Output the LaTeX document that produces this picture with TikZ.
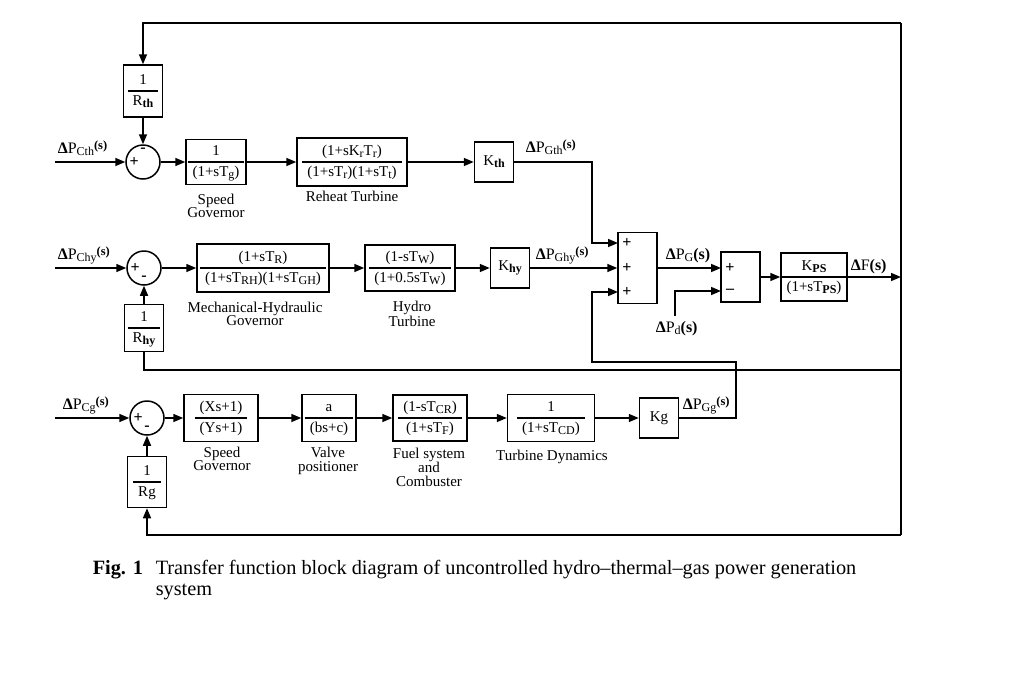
\documentclass[tikz,border=0pt]{standalone}
\usepackage{fontspec}
\setmainfont{Liberation Serif}
\usetikzlibrary{arrows.meta}
\setlength{\arrayrulewidth}{1.3pt}
\renewcommand{\arraystretch}{1.5}
\newcommand{\blkfrac}[2]{\begin{tabular}{@{\hspace{5pt}}c@{\hspace{5pt}}}#1\\\hline#2\end{tabular}}
\newcommand{\lo}[1]{\raisebox{-0.3ex}{\fontsize{12}{12}\selectfont #1}}
\newcommand{\dP}[1]{{\bfseries Δ}P\lo{#1}\raisebox{0.45ex}{\fontsize{12.5}{12.5}\selectfont\bfseries(s)}}
\begin{document}
\begin{tikzpicture}[x=1pt,y=-1pt,line width=1.5pt,>={Triangle[length=10pt,width=8pt]},
  font=\fontsize{15}{13.5}\selectfont,
  blk/.style={draw,rectangle,inner sep=0pt},
  sumc/.style={draw,circle,minimum size=34pt,inner sep=0pt},
  sgn/.style={font=\fontsize{16}{16}\selectfont\bfseries,inner sep=0pt},
  sig/.style={anchor=base west,inner sep=0pt,font=\fontsize{16}{16}\selectfont},
  note/.style={align=center,inner sep=0pt},
  capt/.style={anchor=base west,inner sep=0pt,font=\fontsize{20.3}{21}\selectfont}]

\useasboundingbox (0,0) rectangle (1024,683);

\node[sumc] (s1) at (143,162) {};
\node[blk,minimum width=39pt,minimum height=52pt] (rth) at (143,91) {\blkfrac{1}{R\lo{\bfseries th}}};
\node[blk,minimum width=60pt,minimum height=45pt] (gov1) at (216,162) {\blkfrac{1}{(1+sT\lo{g})}};
\node[blk,minimum width=110pt,minimum height=48pt] (reh) at (352,162) {\blkfrac{(1+sK\lo{r}T\lo{r})}{(1+sT\lo{r})(1+sT\lo{t})}};
\node[blk,minimum width=39pt,minimum height=40pt] (kth) at (494,162) {K\lo{\bfseries th}};

\node[sumc] (s2) at (144,268) {};
\node[blk,minimum width=39pt,minimum height=47pt] (rhy) at (144,328) {\blkfrac{1}{R\lo{\bfseries hy}}};
\node[blk,minimum width=132pt,minimum height=48pt] (mhg) at (263,268) {\blkfrac{(1+sT\lo{R})}{(1+sT\lo{RH})(1+sT\lo{GH})}};
\node[blk,minimum width=90pt,minimum height=46pt] (hyt) at (410,268) {\blkfrac{(1-sT\lo{W})}{(1+0.5sT\lo{W})}};
\node[blk,minimum width=39pt,minimum height=40pt] (khy) at (510,268) {K\lo{\bfseries hy}};

\node[sumc] (s3) at (147,418) {};
\node[blk,minimum width=39pt,minimum height=51pt] (rg) at (147,482) {\blkfrac{1}{Rg}};
\node[blk,minimum width=74pt,minimum height=47pt] (gov3) at (221,418) {\blkfrac{(Xs+1)}{(Ys+1)}};
\node[blk,minimum width=54pt,minimum height=47pt] (vlv) at (329,418) {\blkfrac{a}{(bs+c)}};
\node[blk,minimum width=74pt,minimum height=46pt] (fuel) at (430,418) {\blkfrac{(1-sT\lo{CR})}{(1+sT\lo{F})}};
\node[blk,minimum width=87pt,minimum height=47pt] (tdyn) at (551,418) {\blkfrac{1}{(1+sT\lo{CD})}};
\node[blk,minimum width=39pt,minimum height=40pt] (kg) at (659,418) {Kg};

\node[blk,minimum width=39pt,minimum height=71pt] (sumA) at (637.5,268) {};
\node[blk,minimum width=39pt,minimum height=50pt] (sumB) at (740.5,277) {};
\node[blk,minimum width=66pt,minimum height=48pt] (kps) at (814,277) {\blkfrac{K\lo{\bfseries PS}}{(1+sT\lo{\bfseries PS})}};

\coordinate (in1) at (55,162);
\coordinate (in2) at (55,268);
\coordinate (in3) at (55,418);
\coordinate (tr) at (901,23);
\coordinate (mr) at (901,370);
\coordinate (br) at (901,535);
\coordinate (fb) at (901,277);
\coordinate (jt) at (592,243);
\coordinate (jg1) at (736,362);
\coordinate (jg2) at (592,292);
\coordinate (pd) at (675,316);
\coordinate (sA1) at (618,243);
\coordinate (sA3) at (618,292);
\coordinate (sB1) at (721,268);
\coordinate (sB2) at (721,291);

\node[sgn] (p1) at ([xshift=9pt]s1.west) {+};
\node[sgn] (m1) at ([yshift=-6pt]s1.north) {-};
\node[sgn] (p2) at ([xshift=9pt]s2.west) {+};
\node[sgn] (m2) at ([yshift=7pt]s2.south) {-};
\node[sgn] (p3) at ([xshift=9pt]s3.west) {+};
\node[sgn] (m3) at ([yshift=7pt]s3.south) {-};
\node[sgn] (pA1) at ([xshift=9pt]sA1) {+};
\node[sgn] (pA2) at ([xshift=9pt]sA1 |- sumA.east) {+};
\node[sgn] (pA3) at ([xshift=9pt]sA3) {+};
\node[sgn] (pB1) at ([xshift=9pt]sB1) {+};
\node[sgn] (mB2) at ([xshift=9pt]sB2) {–};

\draw[->] (in1) -- (s1);
\draw[->] (s1) -- (gov1);
\draw[->] (gov1) -- (reh);
\draw[->] (reh) -- (kth);
\draw[->] (kth.east) -| (jt) -- (sA1);

\draw[->] (in2) -- (s2);
\draw[->] (s2) -- (mhg);
\draw[->] (mhg) -- (hyt);
\draw[->] (hyt) -- (khy);
\draw[->] (khy.east) -- (khy.east -| sumA.west);

\draw[->] (in3) -- (s3);
\draw[->] (s3) -- (gov3);
\draw[->] (gov3) -- (vlv);
\draw[->] (vlv) -- (fuel);
\draw[->] (fuel) -- (tdyn);
\draw[->] (tdyn) -- (kg);
\draw[->] (kg.east) -| (jg1) -| (jg2) -- (sA3);

\draw[->] (sumA.east) -- (sB1);
\draw[->] (pd) |- (sB2);
\draw[->] (sumB) -- (kps);
\draw[->] (kps) -- (fb);

\draw[->] (tr) -| (rth);
\draw (tr) -- (br);
\draw[->] (br) -| (rg);
\draw (mr) -| (rhy);
\draw[->] (rth) -- (s1);
\draw[->] (rhy) -- (s2);
\draw[->] (rg) -- (s3);

\node[sig] (lCth) at (57,153) {\dP{Cth}};
\node[sig] (lChy) at (57,259) {\dP{Chy}};
\node[sig] (lCg) at (62,409) {\dP{Cg}};
\node[sig] (lGth) at (525,152) {\dP{Gth}};
\node[sig] (lGhy) at (535,259) {\dP{Ghy}};
\node[sig] (lGg) at (682,409) {\dP{Gg}};
\node[sig] (lG) at (665,259) {{\bfseries Δ}P\lo{G}{\bfseries(s)}};
\node[sig] (lPd) at (655,332) {{\bfseries Δ}P\lo{d}{\bfseries(s)}};
\node[sig] (lF) at (850,270) {{\bfseries Δ}F{\bfseries(s)}};

\node[note] (ngov1) at (216,206) {Speed\\Governor};
\node[note] (nreh) at (352,196) {Reheat Turbine};
\node[note] (nmhg) at (255,314) {Mechanical-Hydraulic\\Governor};
\node[note] (nhyt) at (412,314) {Hydro\\Turbine};
\node[note] (ngov3) at (222,459) {Speed\\Governor};
\node[note] (nvlv) at (328,461) {Valve\\positioner};
\node[note] (nfuel) at (429,467) {Fuel system\\and\\Combuster};
\node[note] (ntdyn) at (552,457) {Turbine Dynamics};

\node[capt] (figno) at (92,574) {\bfseries Fig. 1};
\node[capt] (cap1) at (155,574) {Transfer function block diagram of uncontrolled hydro--thermal--gas power generation};
\node[capt] (cap2) at (155,595) {system};
\end{tikzpicture}
\end{document}
